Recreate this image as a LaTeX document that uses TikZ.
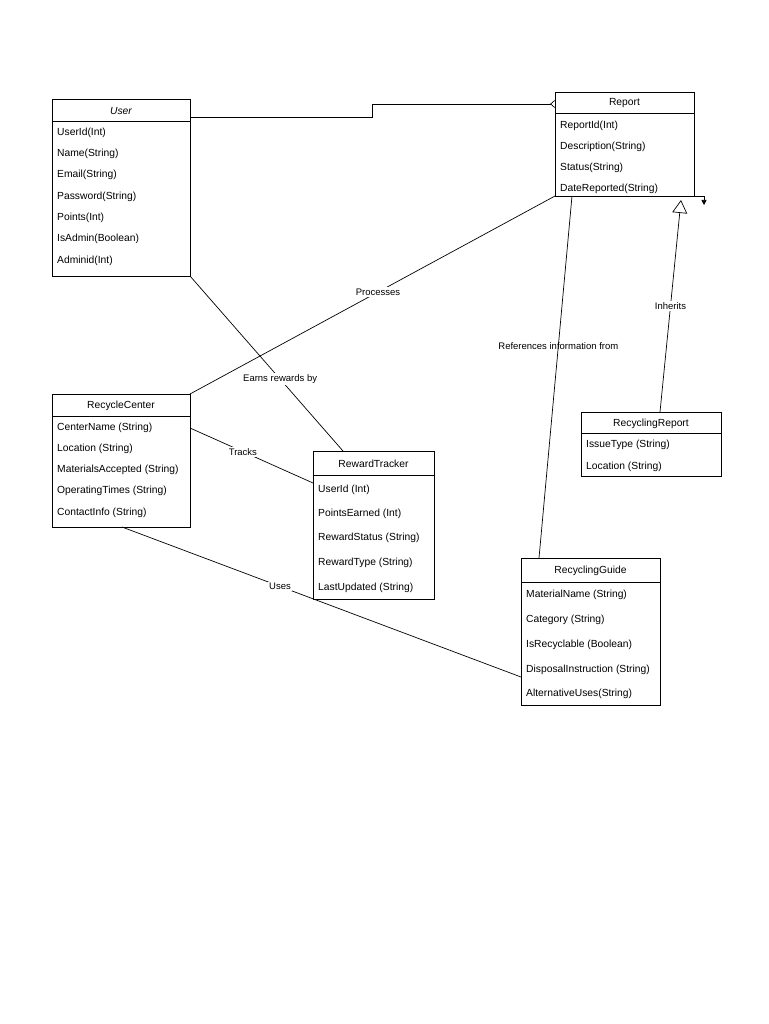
\documentclass[tikz,border=0pt]{standalone}
\usepackage{fontspec}
\setmainfont{Liberation Sans}
\usetikzlibrary{arrows.meta,calc}
\newcommand{\umlbox}[8]{%
  \node[cls, minimum width=#4pt, minimum height=#5pt] (#1) at (#2,#3) {};
  \draw[boxline] (#2,#3+#6) -- (#2+#4,#3+#6);
  \node[ttl] (#1-t) at (#2+#4/2,#3+#6/2+1) {#7};
  \foreach \yy/\tt in {#8} {\node[attr] at (#2+5,\yy+1.5) {\tt};}
}
\begin{document}
\begin{tikzpicture}[x=1pt,y=-1pt,
  boxline/.style={line width=0.8pt},
  cls/.style={draw, line width=0.8pt, anchor=north west, inner sep=0pt, outer sep=0pt},
  attr/.style={anchor=west, inner sep=0pt, font=\fontsize{10.3}{12}\selectfont},
  ttl/.style={inner sep=0pt, font=\fontsize{10.3}{12}\selectfont},
  conn/.style={line width=0.7pt},
  lbl/.style={fill=white, inner sep=1.5pt, font=\fontsize{9.5}{11}\selectfont}]
\useasboundingbox (0,0) rectangle (768,1024);

\umlbox{user}{52}{99}{138}{177}{22}{\itshape User}{131/UserId(Int),152/Name(String),173/Email(String),195/Password(String),216/Points(Int),237/IsAdmin(Boolean),259/Adminid(Int)}
\umlbox{report}{555}{92}{139}{104}{21}{Report}{124/ReportId(Int),145/Description(String),166/Status(String),187/DateReported(String)}
\umlbox{rc}{52}{394}{138}{133}{22}{RecycleCenter}{426/CenterName (String),447/Location (String),468/MaterialsAccepted (String),489/OperatingTimes (String),511/ContactInfo (String)}
\umlbox{rt}{313}{451}{121}{148}{24}{RewardTracker}{488/UserId (Int),512/PointsEarned (Int),536/RewardStatus (String),561/RewardType (String),586/LastUpdated (String)}
\umlbox{rr}{581}{412}{140}{64}{21}{RecyclingReport}{443/IssueType (String),465/Location (String)}
\umlbox{rg}{521}{558}{139}{147}{24}{RecyclingGuide}{593/MaterialName (String),618/Category (String),643/IsRecyclable (Boolean),668/DisposalInstruction (String),692/AlternativeUses(String)}

% User -> Report
\draw[conn, -{Straight Barb[reversed,length=4pt,width=7pt]}] ($(user.north east)+(0,18)$) -- ++(182,0) |- ($(report.north west)+(0,12)$);
% small stub arrow at Report corner
\draw[conn, -{Triangle[length=5pt,width=5pt]}] (report.south east) -- ++(10,0) -- ++(0,9);
% Processes
\draw[conn] (rc.north east) -- (report.south west) node[lbl,pos=0.515]{Processes};
% Earns rewards by
\draw[conn] (user.south east) -- ($(rt.north west)+(30,0)$) node[lbl,pos=0.589]{Earns rewards by};
% References information from
\draw[conn] ($(report.south west)+(17,0)$) -- ($(rg.north west)+(18,0)$) node[lbl,fill=none,pos=0.414]{References information from};
% Inherits
\draw[conn, -{Triangle[length=13pt,width=15pt,fill=white]}] ($(rr.north west)+(79,0)$) -- ($(report.south east)+(-13,4)$) node[lbl,pos=0.5]{Inherits};
% Tracks
\draw[conn] ($(rc.north east)+(0,34)$) -- ($(rt.north west)+(0,32)$) node[lbl,pos=0.43]{Tracks};
% Uses
\draw[conn] ($(rc.south west)+(70,0)$) -- ($(rg.north west)+(0,119)$) node[lbl,pos=0.396]{Uses};
\end{tikzpicture}
\end{document}
